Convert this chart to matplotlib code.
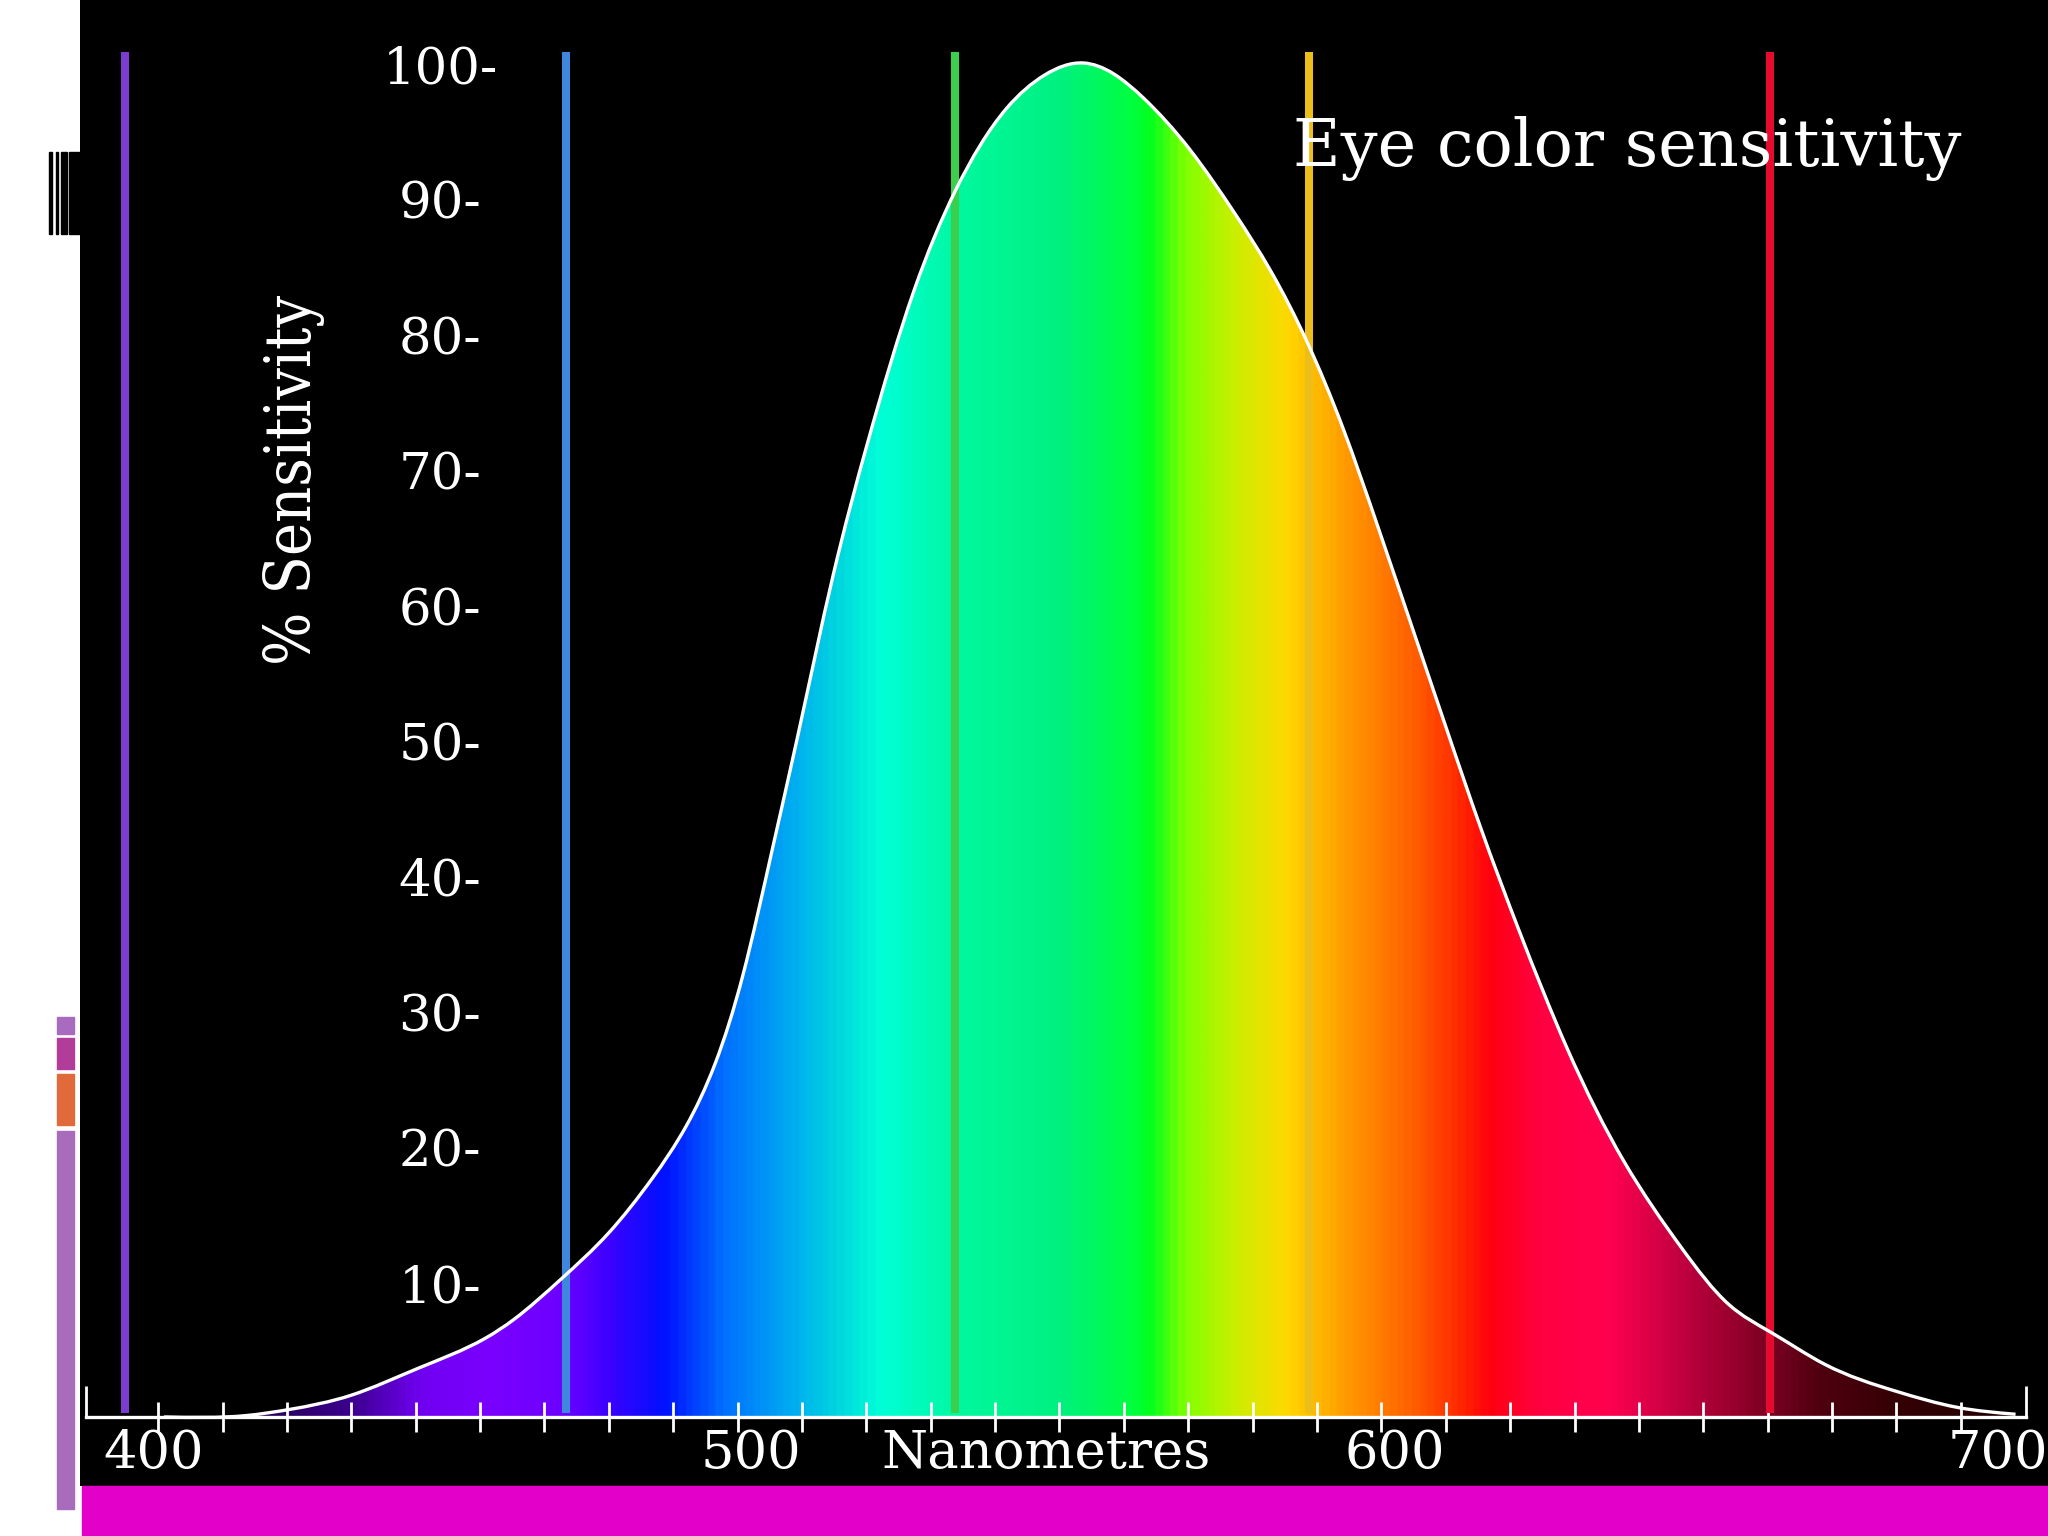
import numpy as np
import matplotlib
matplotlib.use("Agg")
import matplotlib.pyplot as plt
from matplotlib.colors import LinearSegmentedColormap
from matplotlib.patches import PathPatch, Rectangle
from matplotlib.path import Path

plt.rcParams['font.family'] = ['DejaVu Serif', 'DejaVu Sans']

# sensitivity curve (nm, %)
wavelength = [401, 414.6, 421.8, 432.1, 443.3, 454.4, 459.2, 467.1, 475.0, 482.2,
              487.9, 492.7, 497.3, 502.2, 506.3, 512.3, 518.1, 525.8, 532.6, 541.1,
              547.5, 553.9, 559.0, 564.0, 571.7, 579.3, 585.2, 591.2, 597.2, 603.1,
              609.0, 614.5, 620.1, 626.5, 634.5, 643.9, 653.5, 661.4, 668.2, 677.3,
              689.2, 699.5, 709.1]
sensitivity = [0.0, 0.1, 0.55, 1.6, 3.6, 5.8, 7.2, 10.2, 13.6, 17.6,
               21.5, 26.1, 32.6, 41.9, 50.0, 62.1, 72.0, 83.2, 90.5, 96.6,
               99.1, 100.0, 99.2, 97.4, 93.6, 88.8, 84.6, 79.4, 73.0, 65.6,
               57.9, 50.7, 43.5, 35.9, 27.2, 18.9, 12.5, 8.3, 6.3, 3.9,
               1.9, 0.7, 0.2]

# marker lines
marker_nm = [394.5, 467.9, 532.6, 591.5, 668.2]
marker_colors = ['#7b3cd0', '#3f87dc', '#3ccf4e', '#edbe1a', '#e40b2e']

x_labels = ['400', '500', 'Nanometres', '600', '700']
x_label_nm = [399.2, 498.7, 547.8, 605.8, 706.2]
y_ticks = [10, 20, 30, 40, 50, 60, 70, 80, 90, 100]

# spectrum stops for the fill
spectrum_nm = [388, 405, 420, 432, 443, 455, 467, 474, 484, 494, 506, 512, 520, 533,
               550, 562, 565, 571, 579, 588, 598, 610, 618, 622, 630, 642, 654, 661,
               677, 689, 711]
spectrum_col = ['#100020', '#200040', '#2a0060', '#3c0090', '#7000f0', '#7a00ff',
                '#6c00ff', '#4000ff', '#0010ff', '#0070ff', '#00b0f0', '#00d0e0',
                '#00ffd8', '#00f8a0', '#00f080', '#00ff40', '#00ff20', '#80ff00',
                '#c8f000', '#ffd800', '#ff9a00', '#ff5a00', '#ff2000', '#ff0010',
                '#ff0040', '#ff0050', '#c00040', '#a00030', '#500010', '#350005',
                '#200000']


def smooth_path(xs, ys, close=False):
    # natural cubic spline through the points, written as bezier segments
    x = np.asarray(xs, float)
    y = np.asarray(ys, float)
    n = len(x)
    h = np.diff(x)
    d = np.diff(y) / h
    A = np.zeros((n, n))
    r = np.zeros(n)
    A[0, 0] = A[-1, -1] = 1
    for i in range(1, n - 1):
        A[i, i - 1] = h[i - 1]
        A[i, i] = 2 * (h[i - 1] + h[i])
        A[i, i + 1] = h[i]
        r[i] = 6 * (d[i] - d[i - 1])
    M = np.linalg.solve(A, r)
    m = np.empty(n)
    m[:-1] = d - h * (2 * M[:-1] + M[1:]) / 6
    m[-1] = d[-1] + h[-1] * (M[-2] + 2 * M[-1]) / 6
    verts = [(x[0], y[0])]
    codes = [Path.MOVETO]
    for i in range(n - 1):
        verts += [(x[i] + h[i] / 3, y[i] + m[i] * h[i] / 3),
                  (x[i + 1] - h[i] / 3, y[i + 1] - m[i + 1] * h[i] / 3),
                  (x[i + 1], y[i + 1])]
        codes += [Path.CURVE4] * 3
    if close:
        verts += [(x[-1], 0), (x[0], 0), (x[0], 0)]
        codes += [Path.LINETO, Path.LINETO, Path.CLOSEPOLY]
    return Path(verts, codes)


W, H = 2048, 1536
fig = plt.figure(figsize=(20.48, 15.36), dpi=100, facecolor='white')

# left strip decorations and magenta bottom band
for x0, x1 in [(49, 52), (56, 58), (61, 67), (69, 81)]:
    fig.add_artist(Rectangle((x0 / W, 1 - 234 / H), (x1 - x0) / W, 82 / H,
                             transform=fig.transFigure, color='black'))
for y0, y1, c in [(1017, 1034, '#a86bbf'), (1038, 1069, '#b23c9a'),
                  (1074, 1125, '#e06a3a'), (1131, 1509, '#a96bbc')]:
    fig.add_artist(Rectangle((57 / W, 1 - y1 / H), 17 / W, (y1 - y0) / H,
                             transform=fig.transFigure, color=c))
fig.add_artist(Rectangle((82 / W, 0), 1, 50 / H, transform=fig.transFigure,
                         color='#e300c9'))

ax = fig.add_axes([80 / W, 50 / H, 1 - 80 / W, 1486 / H])
ax.set_facecolor('black')
ax.set_xlim(387.0, 714.5)
ax.set_ylim(-5.1, 104.65)

# gradient fill clipped to the curve
lo, hi = spectrum_nm[0], spectrum_nm[-1]
cmap = LinearSegmentedColormap.from_list(
    'spec', [((n - lo) / (hi - lo), c) for n, c in zip(spectrum_nm, spectrum_col)])
grid = np.linspace(lo, hi, 1200)[None, :]
im = ax.imshow(grid, cmap=cmap, vmin=lo, vmax=hi, aspect='auto',
               extent=[lo, hi, 0, 101], origin='lower', zorder=1,
               interpolation='bilinear')
clip = PathPatch(smooth_path(wavelength, sensitivity, close=True),
                 facecolor='none', edgecolor='none')
ax.add_patch(clip)
im.set_clip_path(clip)

for n, c in zip(marker_nm, marker_colors):
    ax.plot([n, n], [0.3, 100.8], color=c, lw=5.8, solid_capstyle='butt', zorder=2)

ax.add_patch(PathPatch(smooth_path(wavelength, sensitivity), facecolor='none',
                       edgecolor='white', lw=2.4, zorder=3))

# axis
for s in ['left', 'right', 'top']:
    ax.spines[s].set_visible(False)
ax.spines['bottom'].set_position(('data', 0))
ax.spines['bottom'].set_bounds(388.0, 710.8)
ax.spines['bottom'].set_color('white')
ax.spines['bottom'].set_linewidth(2.4)
ax.spines['bottom'].set_zorder(4)
ax.set_xticks(np.linspace(400, 700, 29))
ax.set_xticklabels([])
ax.set_xticks([388.0, 710.8], minor=True)
ax.tick_params(axis='x', which='major', direction='inout', length=21, width=2,
               color='white')
ax.tick_params(axis='x', which='minor', direction='in', length=22, width=2,
               color='white')
ax.set_yticks([])

for lab, n in zip(x_labels, x_label_nm):
    ax.text(n, -2.7, lab, color='white', fontsize=38, ha='center', va='center')
for v in y_ticks:
    ax.text(446.9, v - 0.5, f'{v}-', color='white', fontsize=37,
            ha='center', va='center')

ax.text(422.6, 69.2, '% Sensitivity', color='white', fontsize=45, rotation=90,
        ha='center', va='center', fontstretch='condensed')
ax.text(644.4, 93.7, 'Eye color sensitivity', color='white', fontsize=47,
        ha='center', va='center')

fig.savefig('out.png', dpi=100, facecolor='white')
